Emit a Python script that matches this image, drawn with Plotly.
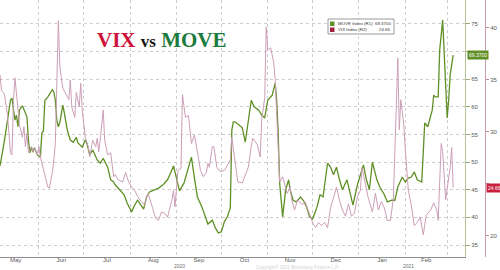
import plotly.graph_objects as go

# ---------------- data ----------------
move_dates = [
    "2020-05-06", "2020-05-09", "2020-05-13", "2020-05-14", "2020-05-16", "2020-05-17", "2020-05-18",
    "2020-05-19", "2020-05-21", "2020-05-24", "2020-05-25", "2020-05-26", "2020-05-27", "2020-05-28",
    "2020-05-29", "2020-05-31", "2020-06-02", "2020-06-03", "2020-06-04", "2020-06-05", "2020-06-07",
    "2020-06-10", "2020-06-11", "2020-06-12", "2020-06-13", "2020-06-14", "2020-06-15", "2020-06-17",
    "2020-06-18", "2020-06-20", "2020-06-22", "2020-06-24", "2020-06-26", "2020-06-27", "2020-06-30",
    "2020-07-02", "2020-07-03", "2020-07-05", "2020-07-07", "2020-07-10", "2020-07-12", "2020-07-14",
    "2020-07-17", "2020-07-19", "2020-07-21", "2020-07-22", "2020-07-25", "2020-07-28", "2020-07-30",
    "2020-08-02", "2020-08-04", "2020-08-06", "2020-08-10", "2020-08-12", "2020-08-14", "2020-08-18",
    "2020-08-20", "2020-08-23", "2020-08-26", "2020-08-28", "2020-08-30", "2020-09-01", "2020-09-03",
    "2020-09-06", "2020-09-09", "2020-09-11", "2020-09-13", "2020-09-15", "2020-09-18", "2020-09-20",
    "2020-09-22", "2020-09-25", "2020-09-27", "2020-09-29", "2020-10-01", "2020-10-03", "2020-10-05",
    "2020-10-07", "2020-10-08", "2020-10-09", "2020-10-10", "2020-10-12", "2020-10-15", "2020-10-17",
    "2020-10-19", "2020-10-21", "2020-10-23", "2020-10-26", "2020-10-28", "2020-10-30", "2020-11-01",
    "2020-11-04", "2020-11-06", "2020-11-07", "2020-11-08", "2020-11-09", "2020-11-11", "2020-11-13",
    "2020-11-15", "2020-11-16", "2020-11-18", "2020-11-20", "2020-11-23", "2020-11-25", "2020-11-27",
    "2020-11-29", "2020-12-01", "2020-12-04", "2020-12-06", "2020-12-08", "2020-12-11", "2020-12-13",
    "2020-12-15", "2020-12-17", "2020-12-19", "2020-12-21", "2020-12-24", "2020-12-26", "2020-12-28",
    "2020-12-31", "2021-01-02", "2021-01-04", "2021-01-06", "2021-01-08", "2021-01-10", "2021-01-13",
    "2021-01-15", "2021-01-18", "2021-01-20", "2021-01-23", "2021-01-25", "2021-01-27", "2021-01-30",
    "2021-02-01", "2021-02-03", "2021-02-05", "2021-02-07", "2021-02-09", "2021-02-12", "2021-02-14",
    "2021-02-16", "2021-02-19", "2021-02-20", "2021-02-21", "2021-02-23", "2021-02-24", "2021-02-26",
    "2021-02-27", "2021-02-28", "2021-03-01", "2021-03-02", "2021-03-03", "2021-03-05",
]
move_values = [
    49.3, 54.0, 61.2, 61.6, 57.6, 58.5, 56.4,
    59.4, 60.2, 58.2, 54.0, 51.7, 52.7, 51.8,
    52.6, 51.3, 50.9, 55.3, 55.6, 61.2, 61.8,
    63.1, 62.7, 61.2, 57.6, 56.4, 57.1, 60.3,
    58.9, 55.8, 54.0, 53.6, 54.5, 53.5, 52.7,
    54.0, 53.5, 51.3, 52.2, 50.4, 49.8, 50.7,
    49.1, 46.8, 46.4, 45.9, 45.0, 44.1, 42.6,
    41.0, 42.2, 43.1, 41.5, 43.7, 44.6, 45.0,
    45.3, 45.9, 46.8, 48.0, 49.3, 47.1, 44.8,
    46.2, 48.9, 50.9, 47.1, 43.7, 41.9, 40.4,
    38.8, 39.5, 38.1, 37.2, 37.4, 39.2, 40.1,
    41.7, 55.8, 57.3, 57.3, 56.9, 56.2, 53.6,
    57.1, 61.2, 60.0, 59.4, 58.5, 58.0, 61.2,
    62.1, 64.3, 61.2, 55.3, 46.2, 40.1, 45.0,
    46.8, 45.0, 43.1, 42.8, 43.7, 43.0, 41.9,
    40.1, 39.7, 41.9, 44.1, 43.7, 49.8, 49.1,
    47.7, 49.1, 46.8, 45.0, 46.8, 44.6, 42.2,
    45.9, 47.7, 49.5, 46.8, 45.0, 50.0, 46.8,
    45.5, 44.1, 42.8, 43.1, 43.1, 45.5, 47.3,
    46.4, 47.1, 47.3, 48.2, 46.8, 46.4, 57.1,
    56.4, 59.4, 62.1, 61.8, 61.8, 70.3, 75.7,
    70.3, 63.1, 58.0, 61.2, 65.8, 69.37,
]

vix_dates = [
    "2020-05-06", "2020-05-07", "2020-05-09", "2020-05-11", "2020-05-12", "2020-05-13", "2020-05-14",
    "2020-05-15", "2020-05-16", "2020-05-17", "2020-05-18", "2020-05-19", "2020-05-21", "2020-05-22",
    "2020-05-23", "2020-05-24", "2020-05-25", "2020-05-27", "2020-05-28", "2020-05-29", "2020-05-31",
    "2020-06-01", "2020-06-02", "2020-06-03", "2020-06-05", "2020-06-07", "2020-06-08", "2020-06-10",
    "2020-06-11", "2020-06-12", "2020-06-13", "2020-06-14", "2020-06-15", "2020-06-17", "2020-06-20",
    "2020-06-21", "2020-06-22", "2020-06-23", "2020-06-25", "2020-06-26", "2020-06-28", "2020-06-29",
    "2020-06-30", "2020-07-02", "2020-07-04", "2020-07-05", "2020-07-07", "2020-07-09", "2020-07-10",
    "2020-07-11", "2020-07-12", "2020-07-14", "2020-07-15", "2020-07-17", "2020-07-19", "2020-07-21",
    "2020-07-22", "2020-07-24", "2020-07-27", "2020-07-29", "2020-07-31", "2020-08-02", "2020-08-04",
    "2020-08-06", "2020-08-09", "2020-08-11", "2020-08-12", "2020-08-13", "2020-08-16", "2020-08-18",
    "2020-08-20", "2020-08-22", "2020-08-24", "2020-08-26", "2020-08-29", "2020-08-30", "2020-08-31",
    "2020-09-02", "2020-09-04", "2020-09-05", "2020-09-07", "2020-09-09", "2020-09-11", "2020-09-13",
    "2020-09-15", "2020-09-17", "2020-09-19", "2020-09-21", "2020-09-22", "2020-09-23", "2020-09-25",
    "2020-09-26", "2020-09-28", "2020-09-30", "2020-10-03", "2020-10-07", "2020-10-08", "2020-10-10",
    "2020-10-12", "2020-10-15", "2020-10-17", "2020-10-19", "2020-10-21", "2020-10-22", "2020-10-25",
    "2020-10-27", "2020-10-28", "2020-10-30", "2020-10-31", "2020-11-01", "2020-11-03", "2020-11-05",
    "2020-11-06", "2020-11-07", "2020-11-09", "2020-11-11", "2020-11-14", "2020-11-16", "2020-11-17",
    "2020-11-19", "2020-11-21", "2020-11-24", "2020-11-26", "2020-11-28", "2020-12-01", "2020-12-03",
    "2020-12-05", "2020-12-07", "2020-12-09", "2020-12-11", "2020-12-13", "2020-12-15", "2020-12-17",
    "2020-12-19", "2020-12-21", "2020-12-23", "2020-12-25", "2020-12-27", "2020-12-29", "2020-12-31",
    "2021-01-02", "2021-01-03", "2021-01-05", "2021-01-07", "2021-01-10", "2021-01-12", "2021-01-14",
    "2021-01-16", "2021-01-18", "2021-01-20", "2021-01-22", "2021-01-24", "2021-01-27", "2021-01-28",
    "2021-01-29", "2021-01-31", "2021-02-01", "2021-02-03", "2021-02-05", "2021-02-07", "2021-02-09",
    "2021-02-11", "2021-02-13", "2021-02-15", "2021-02-18", "2021-02-20", "2021-02-22", "2021-02-23",
    "2021-02-25", "2021-02-26", "2021-02-28", "2021-03-01", "2021-03-03", "2021-03-04", "2021-03-05",
]
vix_values = [
    35.5, 34.0, 33.6, 31.6, 29.9, 28.0, 27.8,
    33.1, 35.2, 33.6, 31.9, 30.7, 29.5, 30.5,
    28.6, 29.9, 28.0, 28.6, 28.1, 28.5, 27.8,
    28.6, 27.6, 27.0, 25.9, 24.7, 24.6, 26.1,
    27.3, 28.9, 34.7, 40.7, 36.3, 34.2, 33.4,
    33.1, 35.0, 32.4, 31.4, 33.8, 32.4, 34.7,
    32.1, 29.5, 28.6, 27.6, 29.2, 28.6, 29.4,
    28.1, 29.2, 32.1, 29.2, 27.8, 28.0, 25.7,
    25.9, 25.4, 25.2, 26.1, 25.2, 24.7, 24.4,
    23.8, 23.2, 23.0, 23.7, 24.1, 22.7, 21.7,
    21.5, 22.3, 22.2, 21.8, 23.5, 24.4, 22.8,
    26.3, 26.5, 33.6, 31.4, 31.6, 28.9, 29.7,
    28.1, 26.3, 25.7, 26.1, 27.0, 26.6, 28.6,
    28.6, 26.6, 26.2, 26.3, 27.3, 29.5, 27.3,
    25.2, 25.1, 25.9, 26.6, 28.6, 29.4, 28.8,
    27.6, 31.2, 33.3, 40.1, 37.9, 38.1, 36.7,
    35.0, 32.1, 25.2, 25.7, 24.1, 24.7, 23.5,
    22.5, 23.5, 23.0, 23.3, 22.5, 21.3, 20.8,
    21.3, 21.0, 21.3, 20.8, 22.7, 23.7, 24.7,
    23.4, 22.5, 21.9, 23.1, 21.9, 22.2, 23.8,
    24.4, 26.6, 25.3, 23.8, 22.3, 24.1, 22.5,
    23.3, 22.7, 21.5, 21.5, 23.5, 37.1, 30.2,
    33.1, 30.7, 28.3, 24.4, 23.0, 21.0, 21.3,
    21.8, 20.1, 22.0, 22.5, 23.2, 22.5, 21.5,
    28.9, 28.1, 23.5, 24.4, 26.6, 28.5, 24.66,
]

move_ticks = [35, 40, 45, 50, 55, 60, 65, 70, 75]
move_ticktext = ["35", "40", "45", "50", "55", "60", "65", "", "75"]  # 70 sits under the value tag
vix_ticks = [20, 25, 30, 35, 40]
vix_ticktext = ["20", "", "30", "35", "40"]  # 25 sits under the value tag
year_labels = ["2020", "2021"]
year_label_dates = ["2020-09-03", "2021-02-03"]

move_name = "MOVE Index (R1)"
vix_name = "VIX Index (R2)"
move_last = move_values[-1]
vix_last = vix_values[-1]

# ---------------- styling ----------------
W, H = 500, 270
MB = 13
PH = H - MB  # plot height in px


def px(x):
    return x / W


def py(y):
    return 1 - y / PH


MOVE_C = "#5f8f25"
VIX_C = "#cc9fb7"
GRID = "#cdcdcd"
SANS = "Liberation Sans, Arial, sans-serif"
TICKF = dict(family=SANS, size=6, color="#5a5a5a")

fig = go.Figure()
fig.add_trace(go.Scatter(x=vix_dates, y=vix_values, yaxis="y2", mode="lines",
                         line=dict(color=VIX_C, width=1), name=vix_name))
fig.add_trace(go.Scatter(x=move_dates, y=move_values, yaxis="y", mode="lines",
                         line=dict(color=MOVE_C, width=1.3), name=move_name))

fig.update_layout(
    width=W, height=H,
    margin=dict(l=0, r=0, t=0, b=MB, pad=0),
    paper_bgcolor="white", plot_bgcolor="white",
    showlegend=False,
    xaxis=dict(
        domain=[0, 0.93], type="date",
        range=["2020-05-06", "2021-03-12 22:00"],
        dtick="M1", tick0="2020-05-01", tickformat="%b", ticklabelmode="period",
        showgrid=True, gridcolor=GRID, griddash="dot", gridwidth=1,
        showline=True, linecolor="#8c8c8c", linewidth=1,
        ticks="", ticklabelstandoff=-3,
        tickfont=TICKF, zeroline=False, fixedrange=True,
    ),
    yaxis=dict(
        side="right", anchor="x", range=[32.83, 79.34],
        tickvals=move_ticks, ticktext=move_ticktext,
        showgrid=True, gridcolor=GRID, griddash="dot", gridwidth=1,
        showline=True, linecolor="#b9c196", linewidth=1,
        ticks="outside", ticklen=4, tickcolor="#9ea77a",
        tickfont=TICKF, zeroline=False,
    ),
    yaxis2=dict(
        overlaying="y", side="right", anchor="free", position=0.97,
        range=[17.98, 42.69], tickvals=vix_ticks, ticktext=vix_ticktext, showgrid=False,
        showline=True, linecolor="#c59fae", linewidth=1,
        ticks="outside", ticklen=3, tickcolor="#b88c9c",
        tickfont=TICKF, zeroline=False,
    ),
)

annotations = []
# title
annotations.append(dict(
    xref="paper", yref="paper", x=px(161), y=py(40), xanchor="center", yanchor="middle",
    showarrow=False,
    text=("<b><span style='color:#cf1238'>VIX</span> "
          "<span style='color:#111111;font-size:17px'>vs</span> "
          "<span style='color:#1b7b3d'>MOVE</span></b>"),
    font=dict(family="Liberation Serif, Times New Roman, serif", size=21),
))
# legend box
shapes = [
    dict(type="rect", xref="paper", yref="paper", x0=px(328), x1=px(394), y0=py(34), y1=py(19),
         line=dict(color="#9a9a9a", width=1), fillcolor="white", layer="above"),
    dict(type="rect", xref="paper", yref="paper", x0=px(330), x1=px(334.5), y0=py(26), y1=py(21.5),
         line=dict(width=0), fillcolor=MOVE_C, layer="above"),
    dict(type="rect", xref="paper", yref="paper", x0=px(330), x1=px(334.5), y0=py(32), y1=py(27.5),
         line=dict(width=0), fillcolor="#a3203e", layer="above"),
]
LEGF = dict(family=SANS, size=4.4, color="#333333")
annotations += [
    dict(xref="paper", yref="paper", x=px(336), y=py(23.8), xanchor="left", yanchor="middle",
         showarrow=False, text=move_name, font=LEGF),
    dict(xref="paper", yref="paper", x=px(392.5), y=py(23.8), xanchor="right", yanchor="middle",
         showarrow=False, text=f"{move_last:.4f}", font=LEGF),
    dict(xref="paper", yref="paper", x=px(336), y=py(29.8), xanchor="left", yanchor="middle",
         showarrow=False, text=vix_name, font=LEGF),
    dict(xref="paper", yref="paper", x=px(392.5), y=py(29.8), xanchor="right", yanchor="middle",
         showarrow=False, text=f"{vix_last:.2f}", font=LEGF),
]
# last value tags
annotations += [
    dict(xref="paper", yref="y", x=px(466.5), y=move_last, xanchor="left", yanchor="middle",
         showarrow=False, text=f"{move_last:.4f}", bgcolor=MOVE_C, borderpad=1,
         font=dict(family=SANS, size=5, color="white")),
    dict(xref="paper", yref="y2", x=px(486), y=vix_last, xanchor="left", yanchor="middle",
         showarrow=False, text=f"{vix_last:.2f}", bgcolor="#c81f3d", borderpad=1,
         font=dict(family=SANS, size=5, color="white")),
]
# year labels
for lab, d in zip(year_labels, year_label_dates):
    annotations.append(dict(xref="x", yref="paper", x=d, y=py(265.5), xanchor="center",
                            yanchor="middle", showarrow=False, text=lab,
                            font=dict(family=SANS, size=5, color="#707070")))
# faint source line
annotations.append(dict(xref="paper", yref="paper", x=px(297), y=py(266.5), xanchor="center",
                        yanchor="middle", showarrow=False,
                        text="Copyright\u00a9 2021 Bloomberg Finance L.P.",
                        font=dict(family=SANS, size=4.5, color="#d4d4d4")))

fig.update_layout(annotations=annotations, shapes=shapes)
fig.write_html("out.html")
